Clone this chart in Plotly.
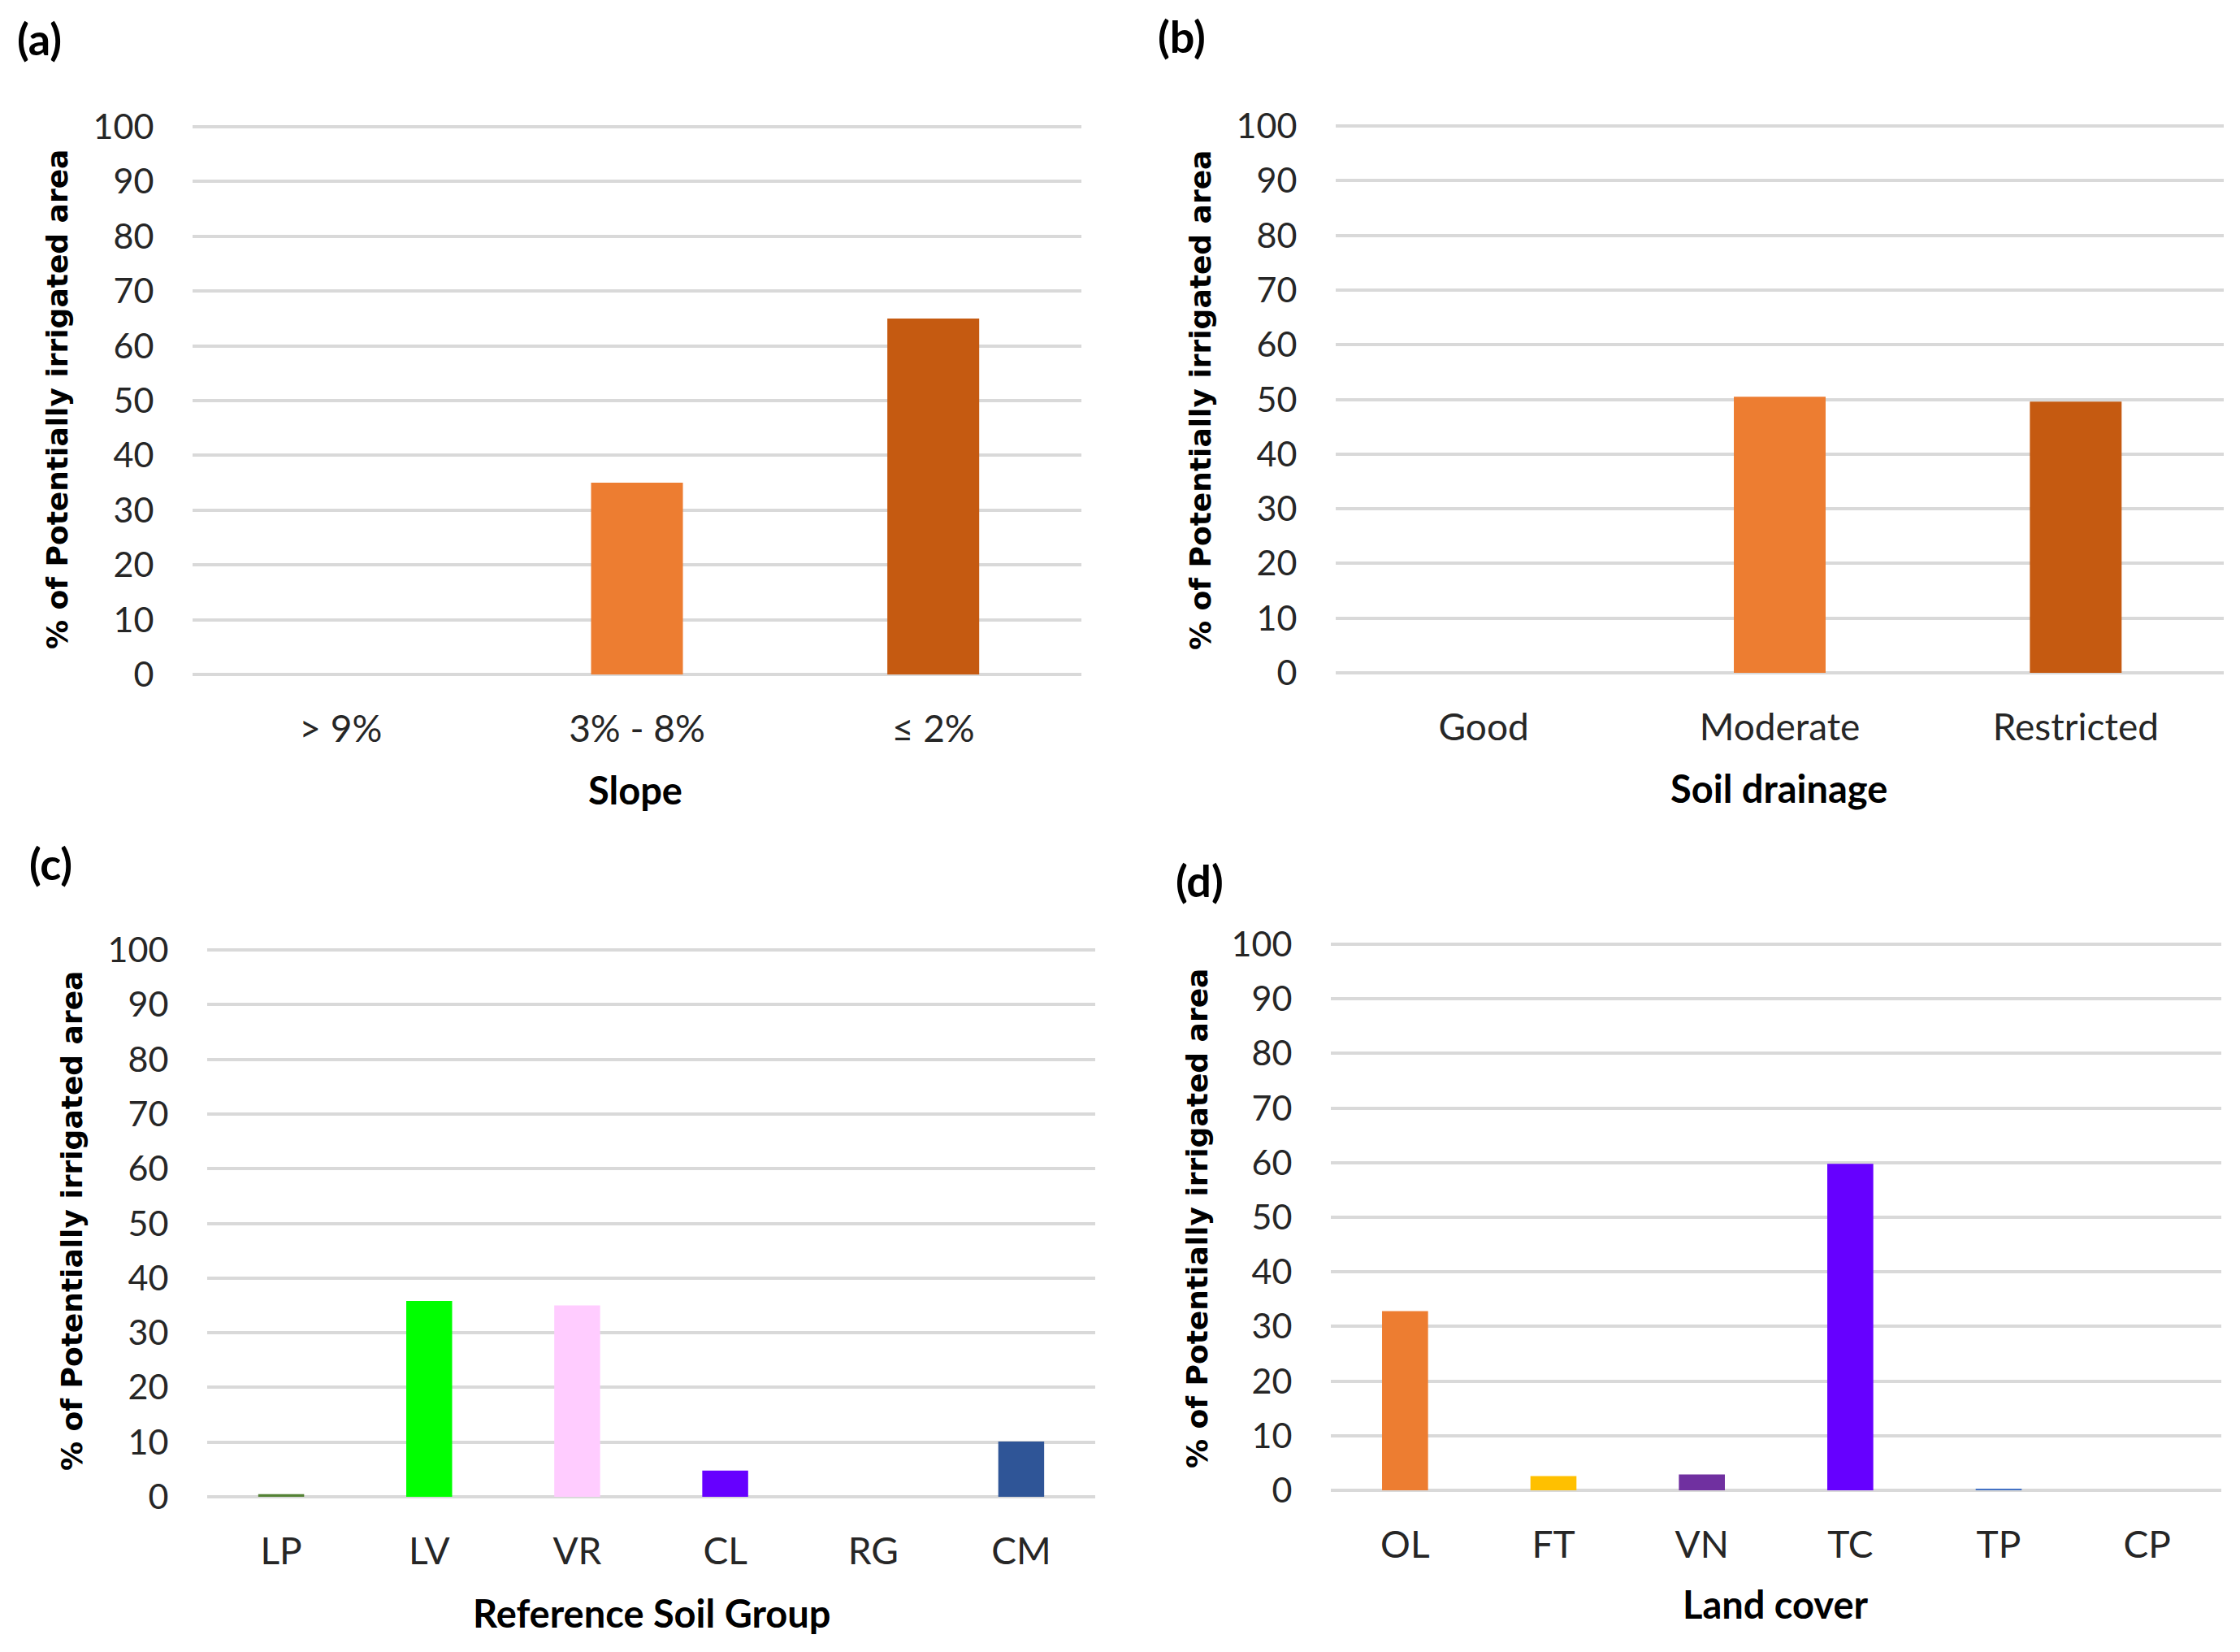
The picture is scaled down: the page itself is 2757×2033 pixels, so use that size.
import plotly.graph_objects as go

W, H = 2757, 2033
OFF = 8  # the page puts the plot 8 px in from the corner

# data
slope_cats = ["> 9%", "3% - 8%", "≤ 2%"]
slope_vals = [0, 35, 65]
slope_cols = ["#ED7D31", "#ED7D31", "#C55A11"]

drain_cats = ["Good", "Moderate", "Restricted"]
drain_vals = [0, 50.5, 49.6]
drain_cols = ["#ED7D31", "#ED7D31", "#C55A11"]

rsg_cats = ["LP", "LV", "VR", "CL", "RG", "CM"]
rsg_vals = [0.5, 35.8, 35.0, 4.8, 0, 10.1]
rsg_cols = ["#548235", "#00FF00", "#FFCCFF", "#6600FF", "#A5A5A5", "#2F5597"]

lc_cats = ["OL", "FT", "VN", "TC", "TP", "CP"]
lc_vals = [32.8, 2.6, 2.9, 59.8, 0.3, 0]
lc_cols = ["#ED7D31", "#FFC000", "#7030A0", "#6600FF", "#4472C4", "#A5A5A5"]

y_ticks = list(range(0, 101, 10))


def px(x):
    return (x - OFF) / W


def py(y):
    return 1 - (y - OFF) / H


# pixel boxes of each plot area: left, right, y of 0, y of 100
panels = [
    dict(cats=slope_cats, vals=slope_vals, cols=slope_cols, box=(237, 1331, 830, 156),
         label="(a)", lab=(48, 48), title="Slope", tpos=(782, 972), ytpos=(70, 492)),
    dict(cats=drain_cats, vals=drain_vals, cols=drain_cols, box=(1644, 2737, 828, 155),
         label="(b)", lab=(1454, 45), title="Soil drainage", tpos=(2189, 970), ytpos=(1477, 492)),
    dict(cats=rsg_cats, vals=rsg_vals, cols=rsg_cols, box=(255, 1348, 1842, 1169),
         label="(c)", lab=(62, 1062), title="Reference Soil Group", tpos=(802, 1985), ytpos=(88, 1503)),
    dict(cats=lc_cats, vals=lc_vals, cols=lc_cols, box=(1638, 2734, 1834, 1162),
         label="(d)", lab=(1477, 1083), title="Land cover", tpos=(2185, 1974), ytpos=(1473, 1500)),
]

fig = go.Figure()
annots = []
ytick_font = dict(family="Lato, Carlito, sans-serif", size=43, color="#262626")
xtick_font = dict(family="Lato, Carlito, sans-serif", size=46, color="#262626")
pad = 0.6  # extra range so the 0 and 100 gridlines get drawn

for i, p in enumerate(panels):
    n = "" if i == 0 else str(i + 1)
    fig.add_trace(go.Bar(x=p["cats"], y=p["vals"], marker=dict(color=p["cols"], line=dict(width=0)),
                         width=0.31, xaxis="x" + n, yaxis="y" + n, showlegend=False))
    l, r, y0, y1 = p["box"]
    unit = (y0 - y1) / 100
    fig.layout["xaxis" + n] = dict(domain=[px(l), px(r)], anchor="y" + n, showgrid=False,
                                   showline=False, zeroline=False, tickfont=xtick_font,
                                   ticks="outside", ticklen=23, tickcolor="rgba(0,0,0,0)",
                                   automargin=False)
    fig.layout["yaxis" + n] = dict(domain=[py(y0 + pad * unit), py(y1 - pad * unit)], anchor="x" + n,
                                   range=[-pad, 100 + pad],
                                   tickvals=y_ticks, showgrid=True, gridcolor="#D9D9D9", gridwidth=3.5,
                                   zeroline=False, showline=False, tickfont=ytick_font,
                                   ticks="outside", ticklen=38, tickcolor="rgba(0,0,0,0)",
                                   automargin=False)
    annots.append(dict(text="<b>" + p["label"] + "</b>", x=px(p["lab"][0]), y=py(p["lab"][1]),
                       xref="paper", yref="paper", showarrow=False, xanchor="center", yanchor="middle",
                       font=dict(family="Lato, sans-serif", size=54, color="black")))
    annots.append(dict(text="<b>" + p["title"] + "</b>", x=px(p["tpos"][0]), y=py(p["tpos"][1]),
                       xref="paper", yref="paper", showarrow=False, xanchor="center", yanchor="middle",
                       font=dict(family="Lato, sans-serif", size=47, color="black")))
    annots.append(dict(text="<b>% of Potentially irrigated area</b>", x=px(p["ytpos"][0]),
                       y=py(p["ytpos"][1]), xref="paper", yref="paper", showarrow=False,
                       textangle=-90, xanchor="center", yanchor="middle",
                       font=dict(family="'DejaVu Sans', sans-serif", size=36, color="black")))

fig.update_layout(width=W, height=H, margin=dict(l=0, r=0, t=0, b=0, pad=0),
                  plot_bgcolor="white", paper_bgcolor="white",
                  annotations=annots)

fig.write_html("out.html")
